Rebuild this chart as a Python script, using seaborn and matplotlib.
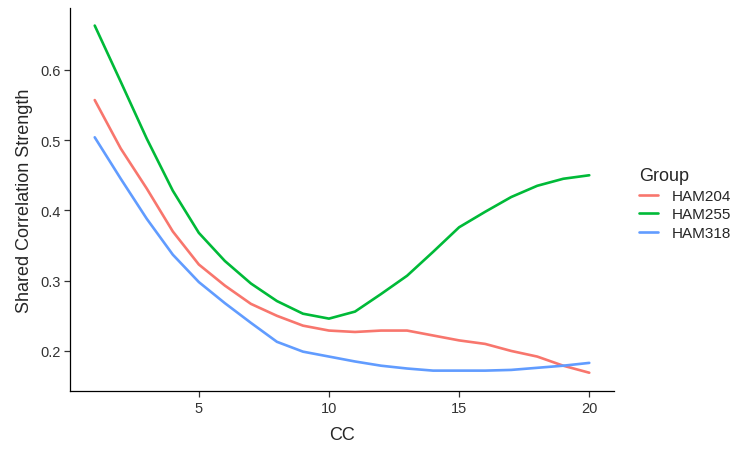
import numpy as np
import pandas as pd
import matplotlib
matplotlib.use('Agg')
import matplotlib.pyplot as plt
import seaborn as sns

##################################################################
##### data
##################################################################
cc = list(range(1, 21))
ham204 = [0.557, 0.488, 0.431, 0.370, 0.323, 0.293, 0.267, 0.250, 0.236, 0.229,
          0.227, 0.229, 0.229, 0.222, 0.215, 0.210, 0.200, 0.192, 0.179, 0.169]
ham255 = [0.663, 0.583, 0.502, 0.428, 0.368, 0.328, 0.296, 0.271, 0.253, 0.246,
          0.256, 0.281, 0.307, 0.341, 0.376, 0.398, 0.419, 0.435, 0.445, 0.450]
ham318 = [0.504, 0.445, 0.388, 0.337, 0.298, 0.268, 0.240, 0.213, 0.199, 0.192,
          0.185, 0.179, 0.175, 0.172, 0.172, 0.172, 0.173, 0.176, 0.179, 0.183]
groups = ['HAM204', 'HAM255', 'HAM318']
colors = ['#F8766D', '#00BA38', '#619CFF']

df = pd.DataFrame({
    'CC': cc * 3,
    'value': ham204 + ham255 + ham318,
    'Group': np.repeat(groups, len(cc)),
})

##################################################################
##### figure
##################################################################
sns.set_style('ticks')
plt.rcParams['font.family'] = ['Liberation Sans', 'DejaVu Sans']

fig = plt.figure(figsize=[7.53, 4.56], dpi=100)
ax = fig.add_axes([70/753, 1 - 392/456, (614 - 70)/753, (392 - 9)/456])

sns.lineplot(data=df, x='CC', y='value', hue='Group', palette=colors,
             linewidth=1.9, ax=ax)

ax.set_xlim(0.05, 20.95)
ax.set_ylim(0.143, 0.688)
ax.set_xticks([5, 10, 15, 20])
ax.set_yticks([0.2, 0.3, 0.4, 0.5, 0.6])
ax.set_yticklabels(['0.2', '0.3', '0.4', '0.5', '0.6'])

for s in ['top', 'right']:
    ax.spines[s].set_visible(False)
for s in ['left', 'bottom']:
    ax.spines[s].set_color('black')
    ax.spines[s].set_linewidth(0.9)
ax.tick_params(axis='both', length=4, width=0.9, color='#333333',
               labelsize=10.5, labelcolor='#333333', pad=3)

fz = 13
ax.set_xlabel('CC', fontsize=fz, labelpad=8)
ax.set_ylabel('Shared Correlation Strength', fontsize=fz, labelpad=5)

leg = ax.legend(title='Group', loc='upper left', bbox_to_anchor=(1.02, 0.62),
                frameon=False, fontsize=11, title_fontsize=13,
                handlelength=1.3, handletextpad=0.9, labelspacing=0.3)
leg._legend_box.align = 'left'

plt.savefig('out.png', dpi=100)
